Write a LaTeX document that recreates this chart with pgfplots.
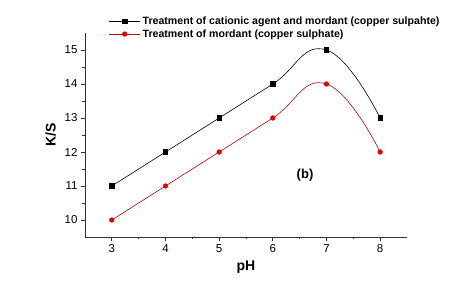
\documentclass[border=0pt]{standalone}
\usepackage{pgfplots}
\pgfplotsset{compat=1.18}
\usepackage{fontspec}
\setmainfont{Liberation Sans}
\definecolor{myred}{RGB}{225,0,0}
\begin{document}
\begin{tikzpicture}
\begin{axis}[
  scale only axis,
  width=322pt, height=204pt,
  xmin=2.5, xmax=8.5, ymin=9.5, ymax=15.5,
  axis x line*=bottom, axis y line*=left,
  axis line style={line width=0.9pt, black!80},
  xtick={3,4,5,6,7,8}, ytick={10,11,12,13,14,15},
  minor x tick num=1, minor y tick num=1,
  tick align=outside,
  major tick length=4pt, minor tick length=2.5pt,
  tick style={line width=0.8pt, black!80},
  /pgf/number format/assume math mode=true,
  ticklabel style={font=\fontsize{11.5}{13}\selectfont},
  xlabel={\textbf{pH}}, ylabel={\textbf{K/S}},
  label style={font=\fontsize{14}{16}\selectfont},
  xlabel style={yshift=-1pt},
  ylabel style={yshift=2pt},
  legend style={at={(0.07,1.095)}, anchor=north west, draw=none, fill=none,
    font=\bfseries\fontsize{10.6}{12}\selectfont, row sep=-0.5pt,
    inner sep=1pt},
  legend cell align=left,
  legend image code/.code={\draw[mark repeat=2,mark phase=2] plot coordinates {(0cm,0cm)(0.55cm,0cm)(1.1cm,0cm)};},
  clip=false,
]
\addplot[black, line width=0.6pt, smooth, tension=0.8, mark=square*, mark size=2.2pt, mark options={solid}]
  coordinates {(3,11)(4,12)(5,13)(6,14)(7,15)(8,13)};
\addlegendentry{Treatment of cationic agent and mordant (copper sulpahte)}
\addplot[myred!85!black, line width=0.6pt, smooth, tension=0.8, mark=*, mark size=2.3pt, mark options={solid, fill=myred, draw=myred}]
  coordinates {(3,10)(4,11)(5,12)(6,13)(7,14)(8,12)};
\addlegendentry{Treatment of mordant (copper sulphate)}
\node[font=\bfseries\fontsize{13}{15}\selectfont] at (axis cs:6.6,11.33) {(b)};
\end{axis}
\useasboundingbox (-85pt,-46pt) rectangle (389pt,237pt);
\end{tikzpicture}
\end{document}
